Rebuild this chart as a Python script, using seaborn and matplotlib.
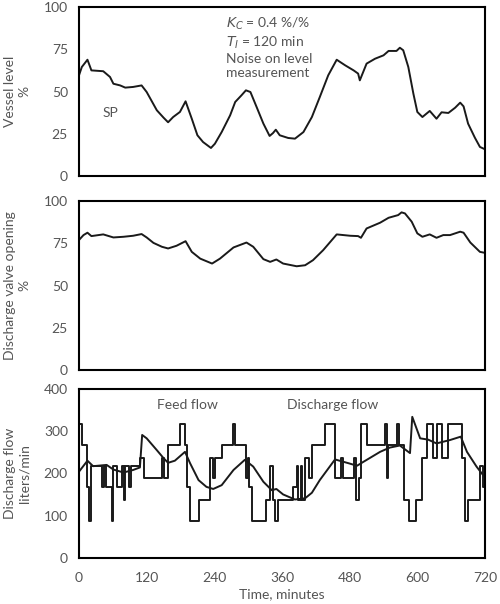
import numpy as np
import pandas as pd
import matplotlib
matplotlib.use("Agg")
import matplotlib.pyplot as plt
import seaborn as sns

# ---- data ----
level_t = [0, 5, 15, 22, 43, 55, 61, 73, 82, 96, 111, 120, 138, 150, 158, 167, 179, 189,
           200, 210, 220, 234, 241, 253, 268, 277, 288, 296, 304, 315, 327, 338, 344, 349,
           356, 371, 383, 398, 413, 427, 442, 457, 472, 487, 495, 498, 510, 525, 540, 549,
           563, 569, 575, 584, 593, 600, 609, 622, 634, 643, 655, 667, 676, 682, 690, 702,
           711, 720]
level_v = [59.6, 64.5, 68.8, 62.5, 62.0, 58.6, 54.6, 53.6, 52.3, 52.7, 53.6, 49.7, 38.9,
           34.5, 31.8, 34.9, 37.9, 44.2, 33.9, 24.1, 20.1, 16.6, 19.1, 26.0, 35.9, 43.8,
           47.7, 50.7, 49.7, 40.8, 31.0, 23.7, 25.4, 27.4, 24.1, 22.5, 22.1, 26.0, 34.9,
           46.7, 59.6, 68.8, 65.5, 62.5, 60.6, 56.6, 66.5, 69.4, 71.4, 74.0, 74.0, 75.9,
           74.4, 64.5, 48.7, 37.9, 34.9, 38.5, 33.9, 37.7, 37.3, 40.4, 43.4, 41.2, 31.0,
           22.7, 17.2, 15.8]

valve_t = [0, 8, 15, 22, 43, 61, 79, 96, 111, 120, 132, 147, 158, 173, 189, 200, 215, 236,
           250, 274, 297, 309, 327, 339, 350, 362, 386, 401, 415, 433, 457, 481, 495, 500,
           510, 534, 549, 566, 572, 578, 590, 600, 609, 622, 634, 646, 658, 676, 682, 694,
           711, 720]
valve_v = [77.0, 79.9, 81.3, 79.3, 80.3, 78.5, 78.9, 79.5, 80.5, 78.5, 75.3, 73.0, 72.0,
           73.6, 76.3, 70.0, 66.0, 63.1, 66.0, 72.6, 75.5, 73.0, 65.7, 64.1, 65.5, 63.1,
           61.5, 62.1, 65.1, 71.0, 80.3, 79.5, 79.3, 78.3, 83.8, 87.2, 90.1, 91.7, 93.3,
           92.7, 87.8, 80.9, 78.9, 80.3, 78.3, 79.9, 79.9, 81.9, 81.3, 75.5, 70.0, 69.4]

discharge_t = [0, 15, 25, 49, 61, 79, 96, 108, 112, 120, 138, 150, 158, 170, 188, 197, 212,
               226, 238, 253, 274, 294, 309, 327, 342, 350, 362, 383, 401, 413, 427, 454,
               478, 493, 504, 534, 551, 569, 587, 591, 605, 619, 634, 646, 658, 677, 688,
               705, 720]
discharge_v = [204, 230, 217, 220, 209, 202, 208, 214, 291, 283, 255, 236, 225, 230, 251,
               224, 184, 168, 163, 172, 208, 232, 216, 180, 160, 163, 150, 138, 141, 154,
               184, 233, 224, 218, 227, 251, 261, 266, 248, 334, 283, 280, 271, 275, 279,
               287, 251, 216, 190]

feed_t = [0, 6, 15, 18, 22, 40, 45, 47, 58, 60, 68, 76, 80, 81, 89, 93, 108, 115, 147,
          151, 158, 179, 188, 192, 197, 212, 233, 237, 241, 253, 273, 277, 296, 300, 302,
          307, 331, 338, 344, 348, 353, 380, 386, 389, 393, 396, 401, 407, 414, 436, 454,
          464, 469, 488, 492, 496, 500, 511, 543, 547, 548, 564, 568, 576, 585, 597, 608,
          617, 627, 634, 643, 655, 680, 685, 690, 711, 716, 720]
feed_v = [318, 267, 167, 87, 217, 167, 217, 167, 87, 217, 167, 217, 138, 217, 167, 217,
          237, 188, 237, 188, 267, 318, 267, 167, 87, 138, 237, 188, 237, 267, 318, 267,
          188, 237, 167, 87, 138, 218, 138, 87, 138, 167, 218, 138, 218, 138, 237, 188,
          267, 318, 188, 237, 188, 237, 138, 188, 318, 267, 318, 188, 267, 318, 267, 138,
          87, 138, 237, 318, 237, 318, 237, 318, 237, 87, 138, 218, 167, 167]

time_ticks = [0, 120, 240, 360, 480, 600, 720]

sns.set_style("white")
plt.rcParams["font.family"] = ["Lato", "DejaVu Sans"]
gray = "#555555"
ink = "#1a1a1a"

fig = plt.figure(figsize=(5.0, 6.04), dpi=100)
ax1 = fig.add_axes([0.158, 0.7086, 0.812, 0.2798])
ax2 = fig.add_axes([0.158, 0.3866, 0.812, 0.2806])
ax3 = fig.add_axes([0.158, 0.0766, 0.812, 0.2794])

sns.lineplot(x=level_t, y=level_v, ax=ax1, color=ink, linewidth=1.4)
sns.lineplot(x=valve_t, y=valve_v, ax=ax2, color=ink, linewidth=1.4)
sns.lineplot(x=feed_t, y=feed_v, ax=ax3, color=ink, linewidth=1.4, drawstyle="steps-post")
sns.lineplot(x=discharge_t, y=discharge_v, ax=ax3, color=ink, linewidth=1.4)

for ax in (ax1, ax2, ax3):
    ax.set_xlim(0, 720)
    ax.set_xticks(time_ticks)
    for s in ax.spines.values():
        s.set_visible(True)
        s.set_color("black")
        s.set_linewidth(1.5)
    ax.tick_params(direction="inout", length=10, width=1.5, color="black",
                   labelcolor=gray, labelsize=10, pad=3)
    ax.set_xlabel("")

for ax in (ax1, ax2):
    ax.set_ylim(0, 100)
    ax.set_yticks([0, 25, 50, 75, 100])
    ax.set_xticklabels([])

ax3.set_ylim(0, 400)
ax3.set_yticks([0, 100, 200, 300, 400])
ax3.set_xticklabels([str(t) for t in time_ticks])
ax3.tick_params(axis="x", pad=5)
ax3.set_xlabel("Time, minutes", color=gray, fontsize=10, labelpad=3)

ax1.set_ylabel("Vessel level\n%", color=gray, fontsize=10)
ax2.set_ylabel("Discharge valve opening\n%", color=gray, fontsize=10)
ax3.set_ylabel("Discharge flow\nliters/min", color=gray, fontsize=10)
for ax in (ax1, ax2, ax3):
    ax.yaxis.set_label_coords(-0.12, 0.5)

ax1.text(260, 90, r"$K_C$ = 0.4 %/%", color=gray, fontsize=10, va="center")
ax1.text(260, 79, r"$T_I$ = 120 min", color=gray, fontsize=10, va="center")
ax1.text(260, 69.5, "Noise on level", color=gray, fontsize=10, va="center")
ax1.text(260, 61, "measurement", color=gray, fontsize=10, va="center")
ax1.text(55, 37, "SP", color=gray, fontsize=10, ha="center", va="center")

ax3.text(193, 362, "Feed flow", color=gray, fontsize=10, ha="center", va="center")
ax3.text(449, 362, "Discharge flow", color=gray, fontsize=10, ha="center", va="center")

fig.savefig("out.png", dpi=100)
